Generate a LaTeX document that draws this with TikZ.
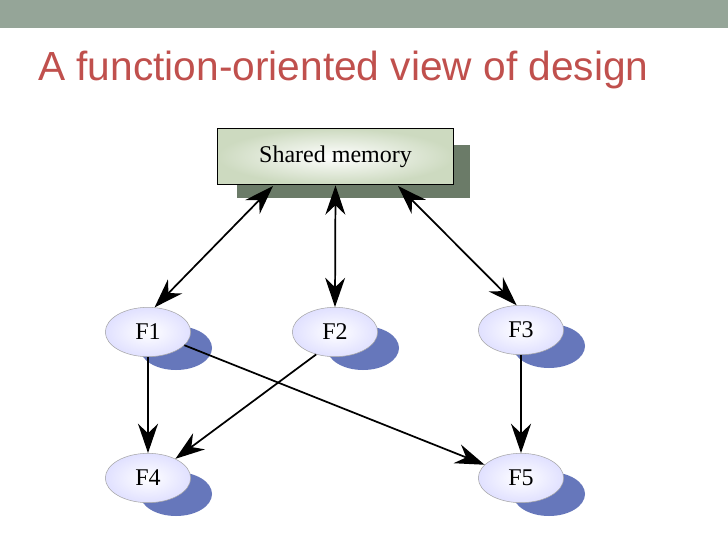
\documentclass[tikz,border=0pt]{standalone}
\usepackage{fontspec}
\setmainfont{Liberation Serif}
\newfontfamily\titlefont{Liberation Sans}
\usetikzlibrary{shapes.geometric,arrows.meta,shadings}
\definecolor{bar}{HTML}{95A598}
\definecolor{ttl}{HTML}{C0504D}
\definecolor{shd}{HTML}{6B7B68}
\definecolor{blu}{HTML}{6677BB}
\begin{document}
\begin{tikzpicture}[x=0.75pt,y=-0.75pt,
  fn/.style={ellipse,draw=gray!70,thin,minimum width=64pt,minimum height=37pt,inner color=white,outer color=blue!12,font=\fontsize{18}{20}\selectfont},
  sh/.style={fill=blu},
  tip/.tip={Stealth[length=22pt,width=15pt]},
  arr/.style={line width=1.3pt,-tip},
  barr/.style={line width=1.3pt,tip-tip}]
\useasboundingbox (0,0) rectangle (728,546);
\fill[white] (0,0) rectangle (728,546);
\fill[bar] (0,0) rectangle (728,28);
\node[anchor=base west,inner sep=0,text=ttl,font=\titlefont\fontsize{30.5}{36}\selectfont] (title) at (38,80) {A function-oriented view of design};
\fill[shd] (237,145) rectangle (470,198);
\node[draw,line width=1.3pt,minimum width=177pt,minimum height=42pt,inner color=white,outer color={rgb,255:red,205;green,218;blue,192},font=\fontsize{18}{20}\selectfont] (sm) at (335.5,156.5) {Shared memory};
\foreach \n/\x/\y in {F1/148/332,F2/335/332,F3/521/330,F4/148/478,F5/521/478}{
  \fill[sh] (\x+28,\y+16) ellipse (36 and 22);
  \node[fn] (\n) at (\x,\y) {\n};
}
\draw[barr] (273,186) -- (F1.75);
\draw[barr] (sm.south) -- (F2.north);
\draw[barr] (398,186) -- (F3.100);
\draw[arr] (F1.south) -- (F4.north);
\draw[arr] (F2.230) -- (F4.35);
\draw[arr] (F1.-20) -- (F5.160);
\draw[arr] (F3.south) -- (F5.north);
\end{tikzpicture}
\end{document}
